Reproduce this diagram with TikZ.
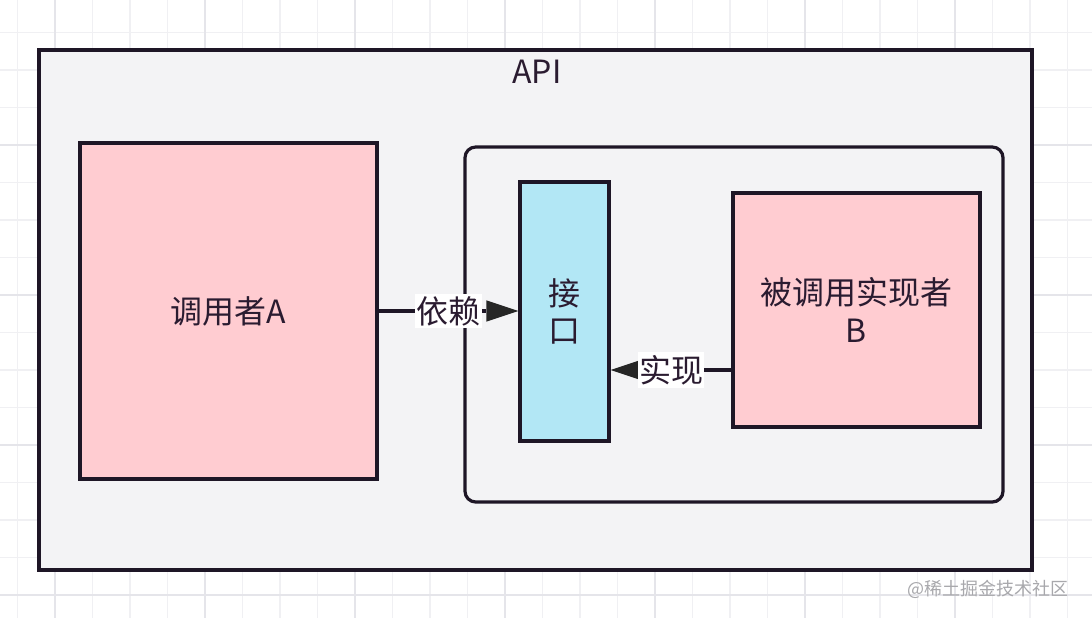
\documentclass[tikz,border=0pt]{standalone}
\usepackage{fontspec}
\setmainfont{Noto Sans CJK SC}
\usetikzlibrary{arrows.meta}
\definecolor{gridminor}{HTML}{F0F0F3}
\definecolor{gridmajor}{HTML}{E5E5EA}
\definecolor{panel}{HTML}{F3F3F5}
\definecolor{pinkfill}{HTML}{FFCCD1}
\definecolor{cyanfill}{HTML}{B2E7F5}
\definecolor{edge}{HTML}{1E1626}
\definecolor{txt}{HTML}{2A1B30}
\definecolor{mark}{HTML}{A8A8AC}
\tikzset{
  box/.style={draw=edge, line width=2.4pt, inner sep=0pt, text=txt, font=\fontsize{24}{29}\selectfont, align=center},
  conn/.style={draw=edge, line width=3pt, -{Triangle[length=24pt,width=16pt,fill=black!85,line width=0pt]}, shorten >=0pt},
  lab/.style={fill=white, text=txt, font=\fontsize{24}{29}\selectfont, inner xsep=1pt, inner ysep=2pt}
}
\begin{document}
\begin{tikzpicture}[x=0.75pt,y=-0.75pt]
\useasboundingbox (0,0) rectangle (1092,618);
\fill[white] (0,0) rectangle (1092,618);
% grid
\foreach \i in {0,...,29} {
  \draw[gridminor, line width=0.8pt] ({17.5+37.5*\i},0) -- ({17.5+37.5*\i},618);
}
\foreach \j in {0,...,16} {
  \draw[gridminor, line width=0.8pt] (0,{-5+37.5*\j}) -- (1092,{-5+37.5*\j});
}
\foreach \i in {0,...,7} {
  \draw[gridmajor, line width=0.8pt] ({55+150*\i},0) -- ({55+150*\i},618);
}
\foreach \j in {0,...,4} {
  \draw[gridmajor, line width=0.8pt] (0,{-5+150*\j}) -- (1092,{-5+150*\j});
}
% outer API panel
\node[draw=edge, fill=panel, line width=3pt, minimum width=993*0.75pt, minimum height=520*0.75pt, inner sep=0pt] (api) at (535.5,310) {};
\node[text=txt, font=\fontsize{24}{29}\selectfont] (apilabel) at (537,72) {API};
% caller A
\node[box, fill=pinkfill, minimum width=297*0.75pt, minimum height=336*0.75pt] (A) at (228.5,311) {调用者A};
% inner rounded container
\node[draw=edge, fill=panel, line width=2.4pt, rounded corners=8pt, minimum width=538*0.75pt, minimum height=355*0.75pt, inner sep=0pt] (inner) at (734,324.5) {};
% interface
\node[box, fill=cyanfill, minimum width=89*0.75pt, minimum height=259*0.75pt] (I) at (564.5,311.5) {接\\[-1pt]口};
% implementation B
\node[box, fill=pinkfill, minimum width=247*0.75pt, minimum height=234*0.75pt] (B) at (856.5,310) {被调用实现者\\B};
% connectors
\draw[conn] (A.east) -- (A.east -| I.west) node[lab, pos=0.5] (dep) {依赖};
\draw[conn] (B.west |- 0,370) -- (I.east |- 0,370) node[lab, pos=0.5] (impl) {实现};
% watermark
\node[text=mark, font=\fontsize{13.5}{16}\selectfont, anchor=east] (wm) at (1073,589) {@稀土掘金技术社区};
\end{tikzpicture}
\end{document}
